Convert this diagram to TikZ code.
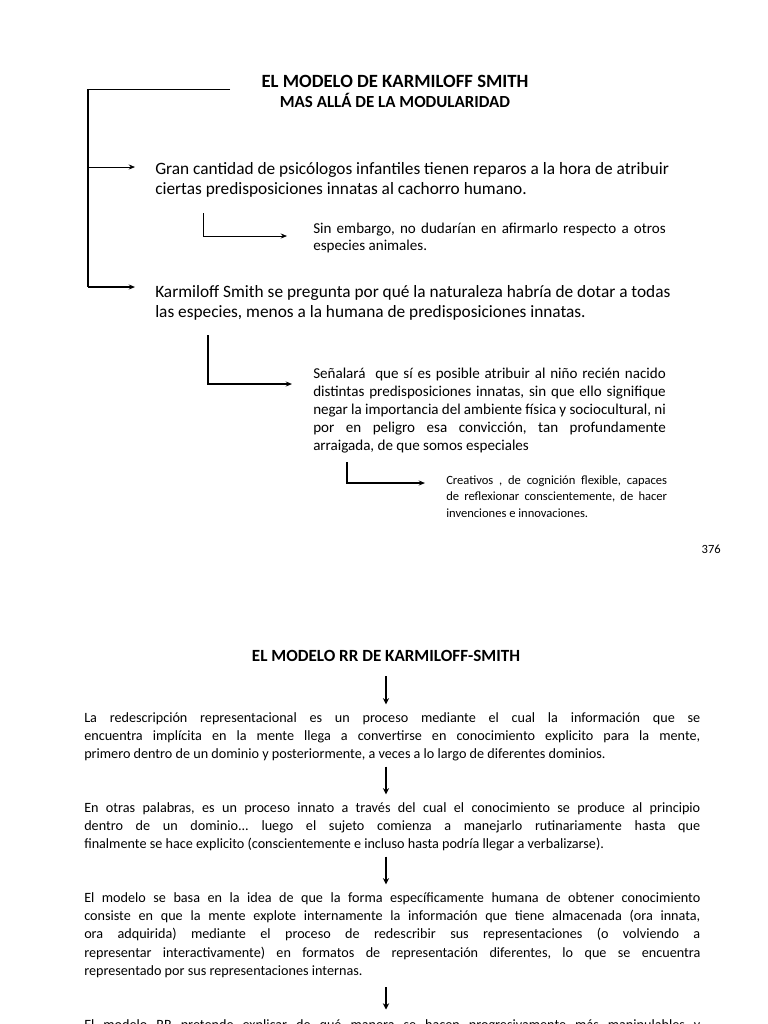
\documentclass[tikz,border=0pt]{standalone}
\usepackage{fontspec}
\setmainfont{Carlito}
\usepackage{tikz}
\usetikzlibrary{arrows.meta}
\frenchspacing
\tikzstyle{head}=[font=\bfseries\fontsize{14.9}{17}\selectfont,inner sep=0pt,anchor=base]
\tikzstyle{subhead}=[font=\bfseries\fontsize{13.5}{15}\selectfont,inner sep=0pt,anchor=base]
\tikzstyle{big}=[font=\fontsize{13.8}{15.3}\selectfont,align=left,inner sep=0pt,anchor=base west]
\tikzstyle{small}=[font=\fontsize{12}{13.6}\selectfont,align=justify,text width=281pt,inner sep=0pt,anchor=base west]
\tikzstyle{tiny}=[font=\fontsize{10}{13.5}\selectfont,align=justify,text width=176pt,inner sep=0pt,anchor=base west]
\tikzstyle{para}=[font=\fontsize{11.3}{14.7}\selectfont,align=justify,text width=491pt,inner sep=0pt,anchor=base west]
\tikzstyle{fine}=[line width=0.6pt,-{Stealth[length=5pt,width=4pt]}]
\tikzstyle{bold}=[line width=1.4pt,-{Stealth[length=5pt,width=4pt]}]
\tikzstyle{down}=[line width=2pt,-{Stealth[length=5pt,width=5pt]},shorten <=4pt,shorten >=6pt]
\newcommand{\pxscale}{0.797pt}

\begin{document}
\begin{tikzpicture}[x=\pxscale,y=-\pxscale]
    \clip (0,0) rectangle (768,1024);
    \fill[white] (0,0) rectangle (768,1024);
%   first page
    \node[head] (h1) at (395,87)  {EL MODELO DE KARMILOFF SMITH};
    \node[subhead] (h1b) at (395,107) {MAS ALLÁ DE LA MODULARIDAD};
    \node[big] (t1) at (155,194) {Gran cantidad de psicólogos infantiles tienen reparos a la hora de atribuir\\ciertas predisposiciones innatas al cachorro humano.};
    \node[small] (s1) at (313,233) {Sin embargo, no dudarían en afirmarlo respecto a otros\linebreak especies animales.};
    \node[big] (t2) at (155,317) {Karmiloff Smith se pregunta por qué la naturaleza habría de dotar a todas\\las especies, menos a la humana de predisposiciones innatas.};
    \node[small,font=\fontsize{12}{14.5}\selectfont] (s2) at (313,378) {Señalará\ \ que sí es posible atribuir al niño recién nacido\linebreak distintas predisposiciones innatas, sin que ello signifique\linebreak negar la importancia del ambiente física y sociocultural, ni\linebreak por en peligro esa convicción, tan profundamente\linebreak arraigada, de que somos especiales};
    \node[tiny] (s3) at (446,484) {Creativos , de cognición flexible, capaces\linebreak de reflexionar conscientemente, de hacer\linebreak invenciones e innovaciones.};
    \node[font=\fontsize{10}{12}\selectfont,inner sep=0pt,anchor=base east] (pg) at (721,553) {376};
%   bracket
    \coordinate (c0) at (230,89);
    \coordinate (c1) at (88,89);
    \coordinate (c2) at (88,287);
    \coordinate (a1) at (135,167);
    \coordinate (a2) at (135,287);
    \draw[line width=0.6pt] (c0) -- (c1);
    \draw[line width=1.4pt] (c1) -- (c2);
    \draw[fine] (c1 |- a1) -- (a1);
    \draw[bold] (c2) -- (a2);
%   sub arrows
    \coordinate (b1) at (203,213);
    \coordinate (e1) at (287,236);
    \draw[fine] (b1) |- (e1);
    \coordinate (b2) at (208,335);
    \coordinate (e2) at (292,384);
    \draw[bold] (b2) |- (e2);
    \coordinate (b3) at (347,462);
    \coordinate (e3) at (425,483);
    \draw[bold] (b3) |- (e3);
%   second page
    \node[subhead,font=\bfseries\fontsize{13.6}{15}\selectfont] (h2) at (386,661) {EL MODELO RR DE KARMILOFF-SMITH};
    \node[para] (p1) at (84,722) {La redescripción representacional es un proceso mediante el cual la información que se\linebreak encuentra implícita en la mente llega a convertirse en conocimiento explicito para la mente,\linebreak primero dentro de un dominio y posteriormente, a veces a lo largo de diferentes dominios.};
    \node[para] (p2) at (84,812) {En otras palabras, es un proceso innato a través del cual el conocimiento se produce al principio\linebreak dentro de un dominio... luego el sujeto comienza a manejarlo rutinariamente hasta que\linebreak finalmente se hace explicito (conscientemente e incluso hasta podría llegar a verbalizarse).};
    \node[para] (p3) at (84,902) {El modelo se basa en la idea de que la forma específicamente humana de obtener conocimiento\linebreak consiste en que la mente explote internamente la información que tiene almacenada (ora innata,\linebreak ora adquirida) mediante el proceso de redescribir sus representaciones (o volviendo a\linebreak representar interactivamente) en formatos de representación diferentes, lo que se encuentra\linebreak representado por sus representaciones internas.};
    \node[para] (p4) at (84,1029) {El modelo RR pretende explicar de qué manera se hacen progresivamente más manipulables y\linebreak flexibles};
    \draw[down,shorten <=12pt] (h2.south) -- (h2.south |- p1.north);
    \draw[down] (p1.south -| h2) -- (p2.north -| h2);
    \draw[down] (p2.south -| h2) -- (p3.north -| h2);
    \draw[down,shorten <=7pt,shorten >=7.5pt] (p3.south -| h2) -- (p4.north -| h2);
\end{tikzpicture}
\end{document}
